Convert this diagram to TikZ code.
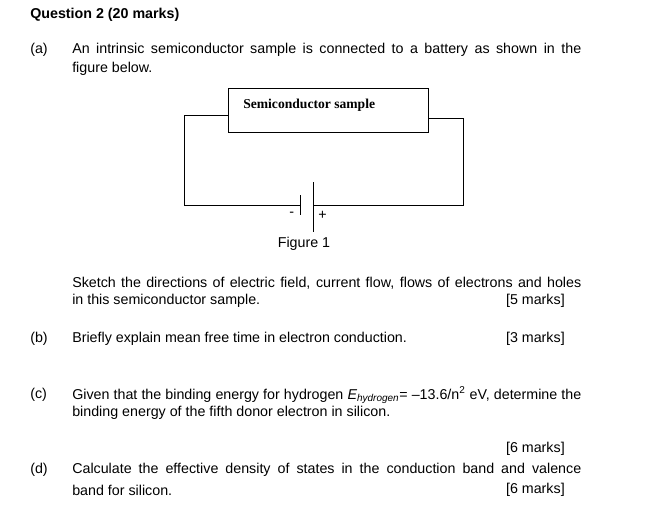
\documentclass[tikz,border=0pt]{standalone}
\usepackage{fontspec}
\setmainfont{Liberation Sans}
\newfontfamily\tnr{Liberation Serif}
\newcommand{\full}[1]{\makebox[381.75pt][s]{#1}}
\begin{document}
\begin{tikzpicture}[x=0.75pt,y=-0.75pt,
  txt/.style={anchor=west,inner sep=0pt,font=\fontsize{10.7}{12}\selectfont},
  rtxt/.style={anchor=east,inner sep=0pt,font=\fontsize{10.7}{12}\selectfont},
  wire/.style={line width=0.7pt}]
\useasboundingbox[fill=white] (0,0) rectangle (659,514);
\node[txt,font=\fontsize{10.7}{12}\selectfont\bfseries] (q) at (30,15) {Question 2 (20 marks)};
\node[txt] (la) at (30,50) {(a)};
\node[txt] (a1) at (72,50) {\full{An intrinsic semiconductor sample is connected to a battery as shown in the}};
\node[txt] (a2) at (72,69) {figure below.};
\node[draw,wire,minimum width=150pt,minimum height=33pt,inner sep=0pt] (box) at (328,110) {};
\node[anchor=west,inner sep=0pt,font=\tnr\bfseries\fontsize{10.2}{11}\selectfont] (bt) at (243,105) {Semiconductor sample};
\coordinate (bl) at (300,205);
\coordinate (br) at (313,205);
\draw[wire] (box.west |- 0,115) -| (184,205) -- (bl);
\draw[wire] (box.east |- 0,118) -| (463,205) -- (br);
\draw[wire] (300,195) -- (300,215);
\draw[wire] (313,182) -- (313,232);
\node[txt] (minus) at (289,214) {-};
\node[txt] (plus) at (318,215) {+};
\node[txt,anchor=center] (fig) at (304,244) {Figure 1};
\node[txt] (a3) at (72,283) {\full{Sketch the directions of electric field, current flow, flows of electrons and holes}};
\node[txt] (a4) at (72,301) {in this semiconductor sample.};
\node[rtxt] (m1) at (565,301) {[5 marks]};
\node[txt] (lb) at (30,339) {(b)};
\node[txt] (b1) at (72,339) {Briefly explain mean free time in electron conduction.};
\node[rtxt] (m2) at (565,339) {[3 marks]};
\node[txt] (lc) at (30,395) {(c)};
\node[txt] (c1) at (72,395) {\full{Given that the binding energy for hydrogen {\itshape E\textsubscript{hydrogen}}= –13.6/n\textsuperscript{2} eV, determine the}};
\node[txt] (c2) at (72,413) {binding energy of the fifth donor electron in silicon.};
\node[rtxt] (m3) at (565,449) {[6 marks]};
\node[txt] (ld) at (30,470) {(d)};
\node[txt] (d1) at (72,470) {\full{Calculate the effective density of states in the conduction band and valence}};
\node[txt] (d2) at (72,490) {band for silicon.};
\node[rtxt] (m4) at (565,490) {[6 marks]};
\end{tikzpicture}
\end{document}
